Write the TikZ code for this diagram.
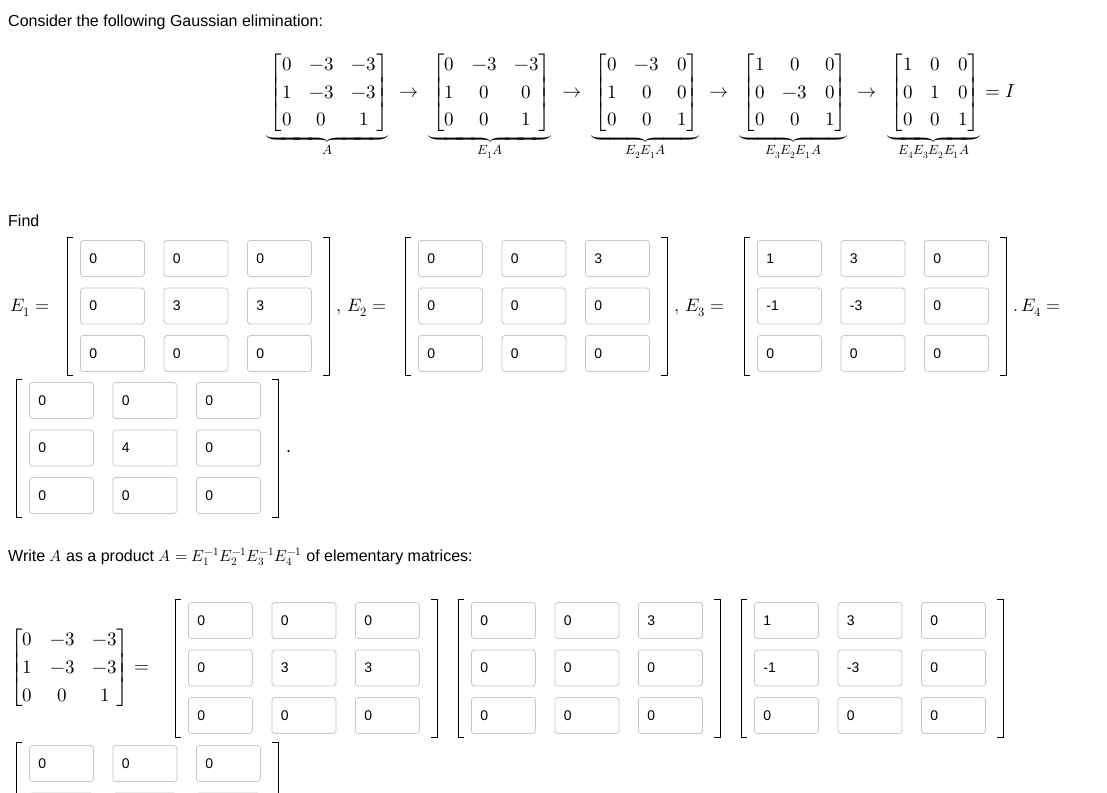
\documentclass[tikz,border=0pt]{standalone}
\usepackage{amsmath}
\usepackage{fontspec}
\setmainfont{Liberation Sans}
\usepackage{unicode-math}
\setmathfont{Latin Modern Math}
\tikzset{
  inbox/.style={draw=black!22, rounded corners=3pt, line width=0.8pt, minimum width=64pt, minimum height=36pt, text width=46pt, inner xsep=9pt, align=left, font=\fontsize{14}{16}\selectfont, anchor=west},
  lbl/.style={font=\fontsize{16}{19}\selectfont, anchor=west, inner sep=0pt},
  mlbl/.style={font=\fontsize{18}{21}\selectfont, inner sep=0pt},
  mat/.style={font=\fontsize{19}{23}\selectfont\renewcommand\arraystretch{1.2}\setlength\arraycolsep{9pt}, inner sep=0pt},
  brk/.style={line width=0.8pt}
}
\newcommand\boxmat[4]{%
  \foreach \v [count=\i from 0] in {#4} {
    \pgfmathtruncatemacro\rr{\i/3}
    \pgfmathtruncatemacro\cc{mod(\i,3)}
    \node[inbox] (#1-\i) at ({#2+\cc*83.5}, {#3+(\rr-1)*47.5}) {\v};
  }
  \draw[brk] ({#2-7},{#3-69}) -- ({#2-13},{#3-69}) -- ({#2-13},{#3+69}) -- ({#2-7},{#3+69});
  \draw[brk] ({#2+243},{#3-69}) -- ({#2+249},{#3-69}) -- ({#2+249},{#3+69}) -- ({#2+243},{#3+69});
}
\begin{document}
\begin{tikzpicture}[x=1pt,y=-1pt]
\useasboundingbox[fill=white] (0,0) rectangle (1107,792);
\node[lbl] (t1) at (8,22) {Consider the following Gaussian elimination:};
\node[mat, anchor=north] (top) at (641,51) {$
\underbrace{\begin{bmatrix}0&-3&-3\\1&-3&-3\\0&0&1\end{bmatrix}}_{A}\;\to\;
\underbrace{\begin{bmatrix}0&-3&-3\\1&0&0\\0&0&1\end{bmatrix}}_{E_1A}\;\to\;
\underbrace{\begin{bmatrix}0&-3&0\\1&0&0\\0&0&1\end{bmatrix}}_{E_2E_1A}\;\to\;
\underbrace{\begin{bmatrix}1&0&0\\0&-3&0\\0&0&1\end{bmatrix}}_{E_3E_2E_1A}\;\to\;
\underbrace{\begin{bmatrix}1&0&0\\0&1&0\\0&0&1\end{bmatrix}}_{E_4E_3E_2E_1A}=I$};
\node[lbl] (find) at (8,221) {Find};
\node[mlbl, anchor=west] (e1) at (10,308) {$E_1=$};
\boxmat{m1}{80}{306}{0,0,0,0,3,3,0,0,0}
\node[mlbl, anchor=west] (e2) at (336,308) {$,\,E_2=$};
\boxmat{m2}{418}{306}{0,0,3,0,0,0,0,0,0}
\node[mlbl, anchor=west] (e3) at (674,308) {$,\,E_3=$};
\boxmat{m3}{757}{306}{1,3,0,-1,-3,0,0,0,0}
\node[mlbl, anchor=west] (e4) at (1013,308) {$.\,E_4=$};
\boxmat{m4}{29}{448}{0,0,0,0,4,0,0,0,0}
\node[mlbl, anchor=west] (dot) at (286,452) {.};
\node[lbl] (w) at (8,557) {Write $A$ as a product $A=E_1^{-1}E_2^{-1}E_3^{-1}E_4^{-1}$ of elementary matrices:};
\node[mat, anchor=west] (am) at (10,668) {$\begin{bmatrix}0&-3&-3\\1&-3&-3\\0&0&1\end{bmatrix}=$};
\boxmat{p1}{188}{668}{0,0,0,0,3,3,0,0,0}
\boxmat{p2}{471}{668}{0,0,3,0,0,0,0,0,0}
\boxmat{p3}{754}{668}{1,3,0,-1,-3,0,0,0,0}
\boxmat{p4}{29}{811}{0,0,0,0,0,0,0,0,0}
\end{tikzpicture}
\end{document}
